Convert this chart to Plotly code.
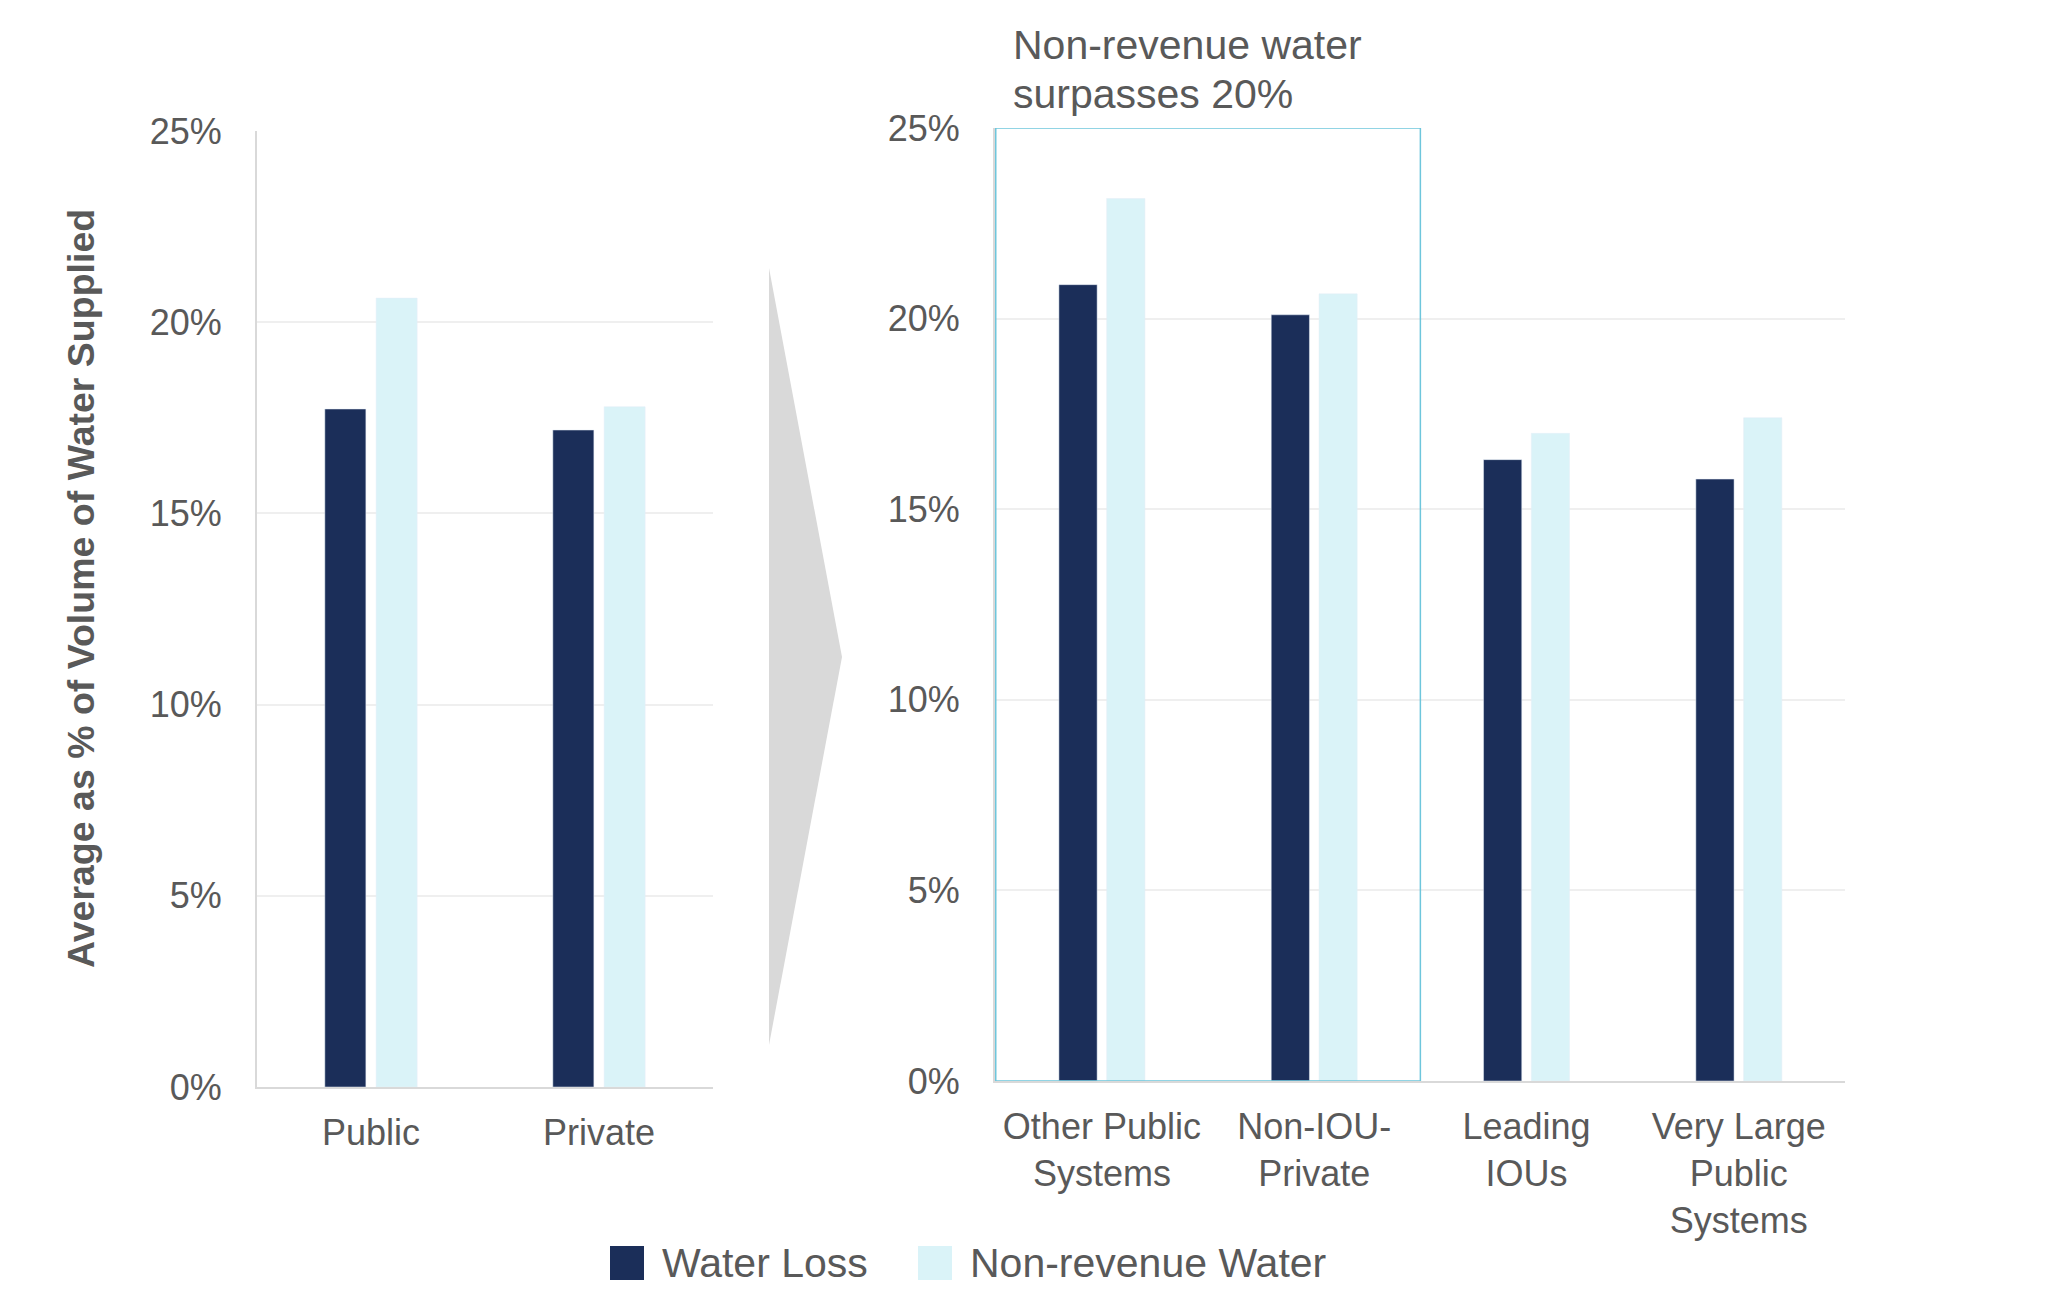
import plotly.graph_objects as go

left_categories = ["Public", "Private"]
left_water_loss = [17.73, 17.18]
left_nrw = [20.63, 17.79]

right_categories = ["Other Public<br>Systems", "Non-IOU-<br>Private", "Leading<br>IOUs", "Very Large<br>Public<br>Systems"]
right_water_loss = [20.89, 20.10, 16.30, 15.79]
right_nrw = [23.15, 20.65, 16.99, 17.40]

y_ticks = [0, 5, 10, 15, 20, 25]
y_tick_text = ["0%", "5%", "10%", "15%", "20%", "25%"]

series_names = ["Water Loss", "Non-revenue Water"]
C_WL = "#1b2e59"
C_NRW = "#daf3f8"
TXT = "#595959"
FONT = "Liberation Sans, Arial, sans-serif"
W, H = 2048, 1313

fig = go.Figure()
fig.add_trace(go.Bar(x=left_categories, y=left_water_loss, marker_color=C_WL, name=series_names[0],
                     xaxis="x", yaxis="y", showlegend=False))
fig.add_trace(go.Bar(x=left_categories, y=left_nrw, marker_color=C_NRW, name=series_names[1],
                     xaxis="x", yaxis="y", showlegend=False))
fig.add_trace(go.Bar(x=right_categories, y=right_water_loss, marker_color=C_WL, name=series_names[0],
                     xaxis="x2", yaxis="y2", showlegend=False))
fig.add_trace(go.Bar(x=right_categories, y=right_nrw, marker_color=C_NRW, name=series_names[1],
                     xaxis="x2", yaxis="y2", showlegend=False))

def px_x(p):
    return p / W

def px_y(p):
    return 1 - p / H

yax_common = dict(range=[0, 25], tickvals=y_ticks, ticktext=y_tick_text,
                  tickfont=dict(family=FONT, size=36, color=TXT),
                  showgrid=True, gridcolor="#efefef", gridwidth=2, zeroline=False,
                  showline=True, linecolor="#d9d9d9", linewidth=2,
                  ticks="", automargin=False, fixedrange=True)
xax_common = dict(tickfont=dict(family=FONT, size=36, color=TXT), showgrid=False,
                  showline=True, linecolor="#d9d9d9", linewidth=2, ticks="",
                  ticklabelstandoff=13, automargin=False, fixedrange=True)

fig.update_layout(
    width=W, height=H,
    margin=dict(l=0, r=0, t=0, b=0),
    paper_bgcolor="white", plot_bgcolor="white",
    barmode="group", bargap=0.55, bargroupgap=0.2,
    showlegend=False,
    xaxis=dict(domain=[px_x(257), px_x(713)], anchor="y", **xax_common),
    yaxis=dict(domain=[px_y(1087), px_y(131)], anchor="x", ticklabelstandoff=26, **yax_common),
    xaxis2=dict(domain=[px_x(995), px_x(1845)], anchor="y2", **xax_common),
    yaxis2=dict(domain=[px_y(1081), px_y(128)], anchor="x2", ticklabelstandoff=26, **yax_common),
)

# highlight box around first two right-hand categories
fig.add_shape(type="rect", xref="x2", yref="y2", x0=-0.5, x1=1.5, y0=0, y1=25,
              line=dict(color="#6ec6dc", width=1.5), fillcolor="rgba(0,0,0,0)", layer="above")

# grey arrow
fig.add_shape(type="path", xref="paper", yref="paper",
              path=f"M {px_x(769)},{px_y(268)} L {px_x(842)},{px_y(657)} L {px_x(769)},{px_y(1045)} Z",
              fillcolor="#d9d9d9", line=dict(width=0))

# annotation text
fig.add_annotation(xref="paper", yref="paper", x=px_x(1011), y=px_y(45), xanchor="left", yanchor="middle",
                   text="Non-revenue water", showarrow=False, font=dict(family=FONT, size=41, color=TXT))
fig.add_annotation(xref="paper", yref="paper", x=px_x(1011), y=px_y(94), xanchor="left", yanchor="middle",
                   text="surpasses 20%", showarrow=False, font=dict(family=FONT, size=41, color=TXT))

# y axis title
fig.add_annotation(xref="paper", yref="paper", x=px_x(81), y=px_y(589), xanchor="center", yanchor="middle",
                   text="<b>Average as % of Volume of Water Supplied</b>", textangle=-90, showarrow=False,
                   font=dict(family=FONT, size=37.5, color=TXT))

# manual legend
legend_items = [(series_names[0], C_WL, 610), (series_names[1], C_NRW, 918)]
for name, col, x0 in legend_items:
    fig.add_shape(type="rect", xref="paper", yref="paper",
                  x0=px_x(x0), x1=px_x(x0 + 34), y0=px_y(1280), y1=px_y(1246),
                  fillcolor=col, line=dict(width=0))
    fig.add_annotation(xref="paper", yref="paper", x=px_x(x0 + 50), y=px_y(1263), xanchor="left",
                       yanchor="middle", text=name, showarrow=False,
                       font=dict(family=FONT, size=41, color=TXT))

fig.write_html("out.html")
